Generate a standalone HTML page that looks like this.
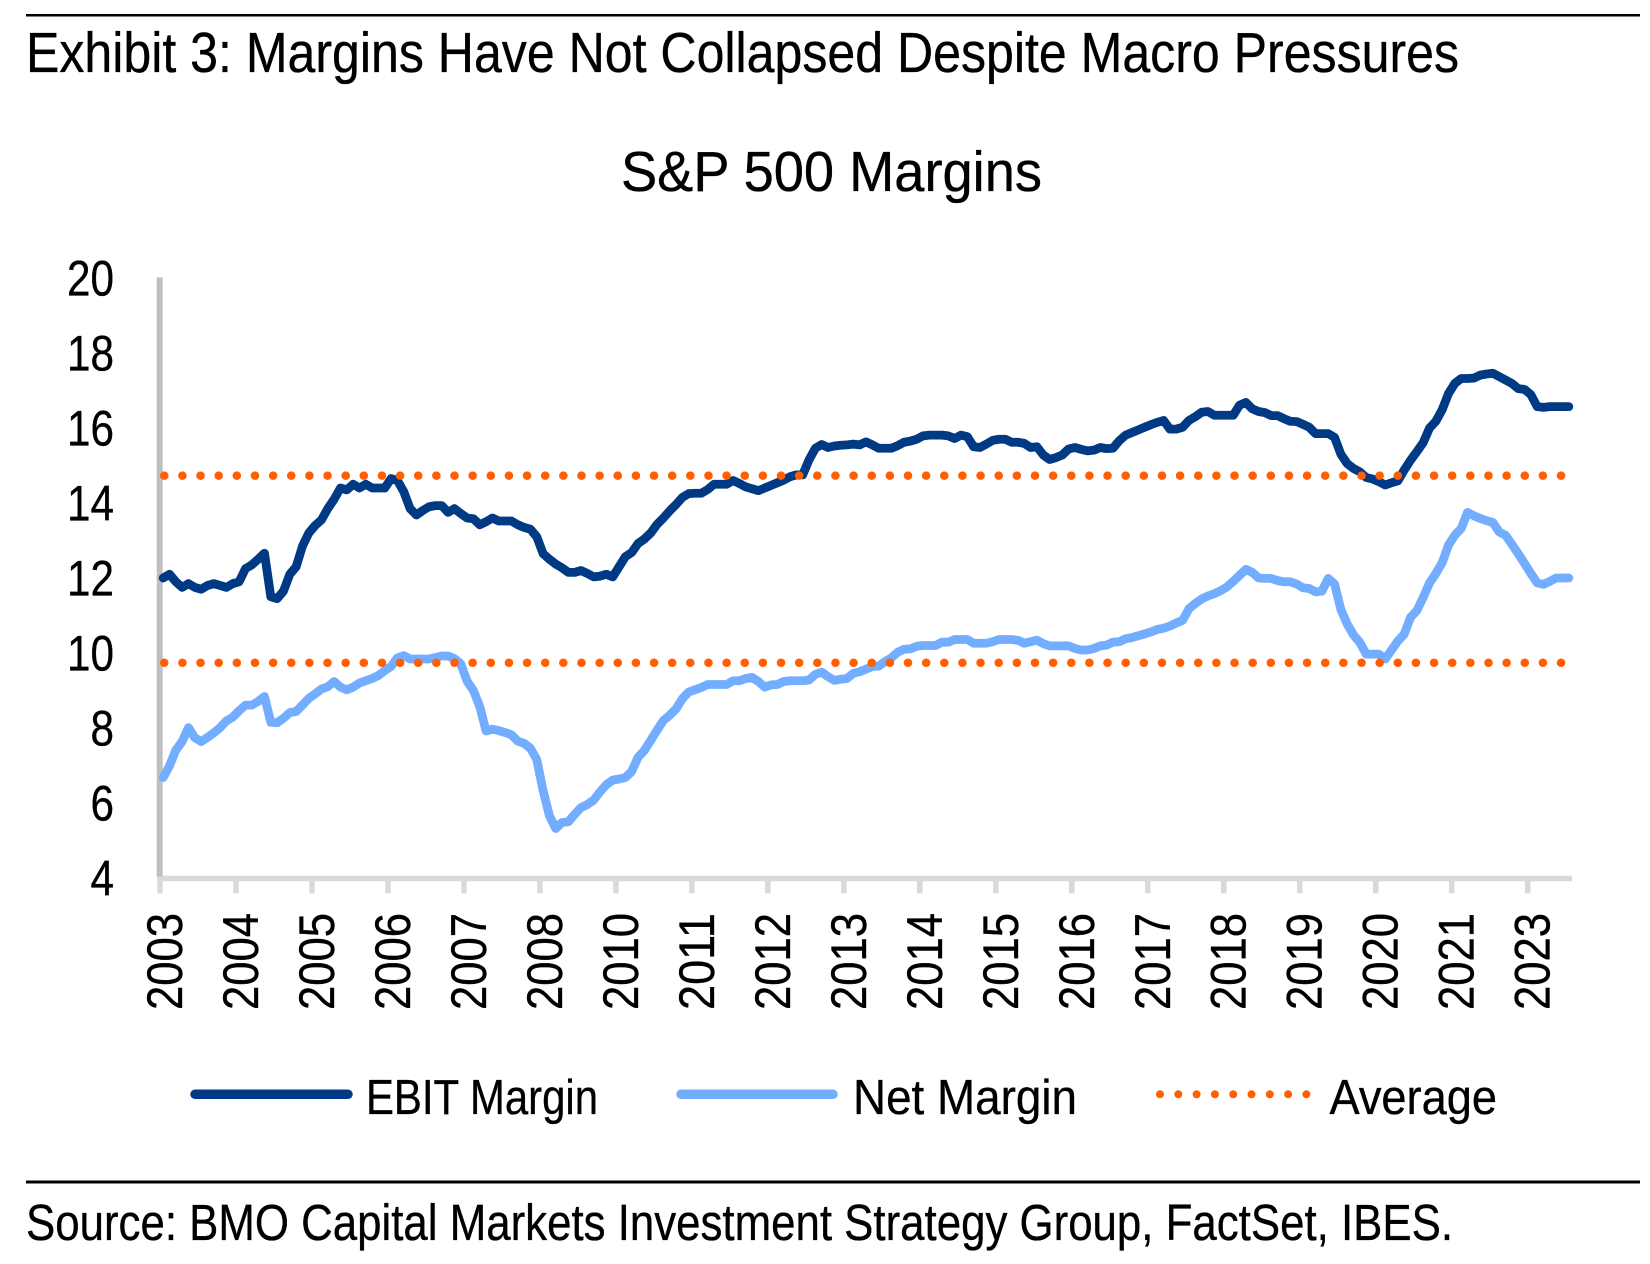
<!DOCTYPE html>
<html lang="en">
<head>
<meta charset="utf-8">
<title>Exhibit 3: Margins Have Not Collapsed Despite Macro Pressures</title>
<style>
html,body{margin:0;padding:0;background:#fff;}
body{width:1650px;height:1264px;overflow:hidden;}
svg{display:block;}
text{font-family:"Liberation Sans",sans-serif;fill:#000;stroke:#000;stroke-width:0.35px;}
</style>
</head>
<body>
<svg id="chart" xmlns="http://www.w3.org/2000/svg" width="1650" height="1264" viewBox="0 0 1650 1264">
  <rect x="0" y="0" width="1650" height="1264" fill="#fff"/>
  <rect x="26" y="14" width="1614" height="2.5" fill="#000"/>
  <text x="26" y="72" font-size="56.5" textLength="1433" lengthAdjust="spacingAndGlyphs">Exhibit 3: Margins Have Not Collapsed Despite Macro Pressures</text>
  <text x="621" y="191" font-size="56.5" textLength="421" lengthAdjust="spacingAndGlyphs">S&amp;P 500 Margins</text>

  <g id="plot"></g>

  <g>
    <g>
      <line x1="195" y1="1094.3" x2="348" y2="1094.3" stroke="#003984" stroke-width="9.5" stroke-linecap="round"/>
      <text x="366" y="1114" font-size="49.5" textLength="232" lengthAdjust="spacingAndGlyphs">EBIT Margin</text>
    </g>
    <g>
      <line x1="681" y1="1094.3" x2="833" y2="1094.3" stroke="#72ADFF" stroke-width="9.5" stroke-linecap="round"/>
      <text x="853" y="1114" font-size="49.5" textLength="224" lengthAdjust="spacingAndGlyphs">Net Margin</text>
    </g>
    <g>
      <line x1="1160" y1="1094.3" x2="1307" y2="1094.3" stroke="#FF5F00" stroke-width="8" stroke-linecap="round" stroke-dasharray="0 18.3"/>
      <text x="1329.5" y="1114" font-size="49.5" textLength="167.5" lengthAdjust="spacingAndGlyphs">Average</text>
    </g>
  </g>

  <rect x="26" y="1180.5" width="1614" height="3" fill="#000"/>
  <text x="26" y="1240" font-size="51" textLength="1427" lengthAdjust="spacingAndGlyphs">Source: BMO Capital Markets Investment Strategy Group, FactSet, IBES.</text>
</svg>

<script>
var yTickLabels = [4, 6, 8, 10, 12, 14, 16, 18, 20];
var xTickLabels = ["2003","2004","2005","2006","2007","2008","2010","2011","2012","2013","2014","2015","2016","2017","2018","2019","2020","2021","2023"];
var pointsPerTick = 12;
var averages = [14.73, 9.74];
var ebitMargin = [
12.0,12.1,11.9,11.75,11.85,11.75,11.7,11.8,11.85,11.8,11.75,11.85,11.9,12.25,12.35,12.5,12.66,11.5,11.45,11.65,
12.1,12.3,12.85,13.2,13.4,13.55,13.85,14.1,14.4,14.35,14.5,14.4,14.5,14.4,14.4,14.4,14.65,14.6,14.3,13.85,
13.68,13.8,13.9,13.93,13.93,13.75,13.85,13.72,13.6,13.58,13.42,13.5,13.6,13.52,13.52,13.52,13.42,13.35,13.3,13.1,
12.65,12.5,12.37,12.27,12.15,12.15,12.2,12.12,12.03,12.05,12.1,12.03,12.3,12.57,12.68,12.92,13.04,13.2,13.43,13.6,
13.79,13.96,14.15,14.25,14.26,14.26,14.36,14.5,14.5,14.5,14.6,14.52,14.43,14.38,14.33,14.4,14.47,14.54,14.61,14.7,
14.75,14.75,15.15,15.46,15.56,15.48,15.52,15.54,15.55,15.57,15.55,15.63,15.55,15.46,15.46,15.46,15.53,15.62,15.65,15.7,
15.79,15.81,15.81,15.81,15.79,15.72,15.81,15.77,15.5,15.48,15.57,15.67,15.7,15.7,15.62,15.62,15.59,15.48,15.5,15.28,
15.16,15.21,15.28,15.44,15.48,15.43,15.39,15.41,15.48,15.45,15.46,15.66,15.81,15.88,15.95,16.02,16.09,16.15,16.2,15.97,
15.97,16.02,16.2,16.3,16.42,16.44,16.34,16.34,16.34,16.34,16.61,16.68,16.51,16.44,16.41,16.33,16.33,16.25,16.18,16.17,
16.1,16.02,15.85,15.85,15.85,15.75,15.3,15.05,14.92,14.83,14.68,14.64,14.57,14.48,14.54,14.59,14.88,15.14,15.37,15.61,
16.0,16.18,16.49,16.92,17.19,17.32,17.32,17.33,17.41,17.44,17.46,17.37,17.28,17.19,17.05,17.03,16.89,16.57,16.55,16.57,
16.57,16.57,16.57
];
var netMargin = [
6.68,6.99,7.41,7.64,8.01,7.74,7.64,7.75,7.87,8.01,8.19,8.29,8.46,8.61,8.61,8.71,8.84,8.15,8.14,8.26,
8.41,8.44,8.61,8.79,8.91,9.04,9.1,9.24,9.09,9.02,9.09,9.2,9.26,9.32,9.4,9.53,9.64,9.87,9.93,9.84,
9.84,9.84,9.84,9.88,9.92,9.92,9.85,9.71,9.25,9.0,8.57,7.92,7.97,7.93,7.88,7.82,7.65,7.59,7.46,7.16,
6.33,5.66,5.32,5.48,5.5,5.7,5.88,5.96,6.08,6.3,6.49,6.61,6.64,6.68,6.84,7.22,7.4,7.67,7.94,8.2,
8.34,8.51,8.78,8.96,9.02,9.08,9.16,9.16,9.16,9.16,9.26,9.26,9.32,9.35,9.24,9.09,9.15,9.16,9.24,9.26,
9.26,9.26,9.28,9.43,9.49,9.37,9.27,9.3,9.32,9.46,9.5,9.57,9.64,9.65,9.77,9.87,10.02,10.1,10.11,10.18,
10.2,10.2,10.2,10.29,10.29,10.36,10.36,10.36,10.26,10.26,10.26,10.3,10.36,10.36,10.36,10.34,10.26,10.3,10.34,10.25,
10.19,10.19,10.19,10.19,10.12,10.08,10.08,10.12,10.19,10.21,10.29,10.3,10.38,10.41,10.46,10.51,10.56,10.63,10.66,10.72,
10.8,10.87,11.18,11.32,11.44,11.52,11.58,11.66,11.76,11.91,12.07,12.23,12.15,12.0,11.99,11.99,11.93,11.9,11.9,11.84,
11.74,11.72,11.63,11.65,11.99,11.84,11.16,10.77,10.48,10.28,9.97,9.97,9.97,9.84,10.08,10.32,10.5,10.95,11.13,11.48,
11.87,12.12,12.41,12.88,13.14,13.32,13.75,13.66,13.59,13.53,13.48,13.23,13.14,12.9,12.65,12.39,12.12,11.87,11.83,11.91,
12.0,12.0,12.0
];

var NS = "http://www.w3.org/2000/svg";
var plot = document.getElementById("plot");
var plotLeft = 160, plotRight = 1572, plotBottom = 878, plotTop = 278;
var yMin = 4, yMax = 20;
var catWidth = (plotRight - plotLeft) / ebitMargin.length;

function xScale(i) { return plotLeft + (i + 0.5) * catWidth; }
function xEdge(i) { return plotLeft + i * catWidth; }
function yScale(v) { return plotBottom - (v - yMin) * (plotBottom - plotTop) / (yMax - yMin); }
function make(tag, attrs) {
  var el = document.createElementNS(NS, tag);
  for (var k in attrs) { el.setAttribute(k, attrs[k]); }
  return el;
}
function linePath(values) {
  var d = "";
  for (var i = 0; i < values.length; i++) {
    d += (i ? "L" : "M") + xScale(i).toFixed(2) + " " + yScale(values[i]).toFixed(2);
  }
  return d;
}

/* x axis ticks */
xTickLabels.forEach(function (label, k) {
  var tx = xEdge(k * pointsPerTick);
  var tick = make("line", {x1: tx, y1: 878, x2: tx, y2: 893.3, stroke: "#d9d9d9", "stroke-width": 5.5});
  
  
  plot.appendChild(tick);
  var bx = tx + 22;
  var t = make("text", {x: 0, y: 0, "font-size": 50, "text-anchor": "end", textLength: 97, lengthAdjust: "spacingAndGlyphs", transform: "translate(" + bx + " 913) rotate(-90)"});
  t.textContent = label;
  
  
  plot.appendChild(t);
});

/* y axis labels */
yTickLabels.forEach(function (v) {
  var s = String(v);
  var t = make("text", {x: 114, y: yScale(v) + 17.5, "font-size": 50, "text-anchor": "end", textLength: s.length * 23.5, lengthAdjust: "spacingAndGlyphs"});
  t.textContent = s;
  
  
  plot.appendChild(t);
});

/* axes */
var xAxis = make("line", {x1: plotLeft - 3, y1: 878.5, x2: plotRight, y2: 878.5, stroke: "#d9d9d9", "stroke-width": 5.5});


plot.appendChild(xAxis);
var yAxis = make("line", {x1: 159.7, y1: 277.5, x2: 159.7, y2: 876.5, stroke: "#bfbfbf", "stroke-width": 6});


plot.appendChild(yAxis);

/* series */
var ebitLine = make("path", {d: linePath(ebitMargin), fill: "none", stroke: "#003984", "stroke-width": 8.8, "stroke-linejoin": "round", "stroke-linecap": "round"});


plot.appendChild(ebitLine);
var netLine = make("path", {d: linePath(netMargin), fill: "none", stroke: "#72ADFF", "stroke-width": 8.8, "stroke-linejoin": "round", "stroke-linecap": "round"});


plot.appendChild(netLine);

/* averages */
averages.forEach(function (a) {
  var avg = make("line", {x1: xScale(0) + 1.1, y1: yScale(a), x2: xScale(ebitMargin.length - 1) - 4, y2: yScale(a), stroke: "#FF5F00", "stroke-width": 8.6, "stroke-linecap": "round", "stroke-dasharray": "0 18.14"});
  
  
  plot.appendChild(avg);
});
</script>
</body>
</html>
